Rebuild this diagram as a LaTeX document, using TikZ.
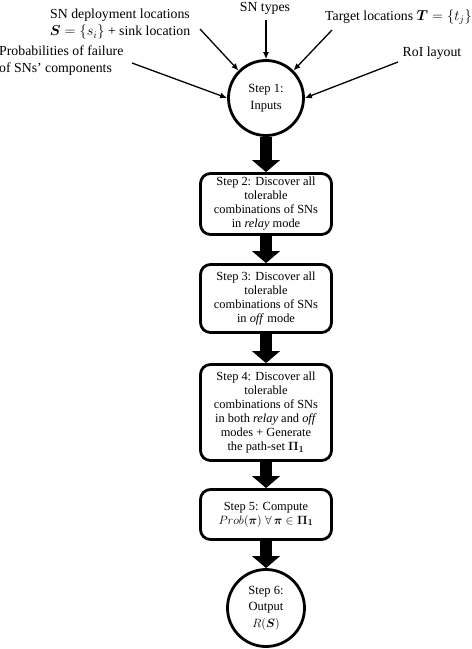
\documentclass[tikz,border=0pt]{standalone}
\usepackage{fontspec}
\setmainfont{Liberation Serif}
\usepackage{amsmath,bm}
\usetikzlibrary{arrows,arrows.meta}

\tikzset{
    stepbox/.style={draw, line width=2.8pt, rounded corners=10pt, minimum width=131pt, align=center, inner sep=2pt, font=\fontsize{12.4}{14}\selectfont},
    stepcirc/.style={draw, circle, line width=2.8pt, minimum size=75pt, inner sep=0pt, align=center, font=\fontsize{12.5}{16.5}\selectfont},
    inlabel/.style={inner sep=0pt, align=center, font=\fontsize{13.8}{17}\selectfont},
    inarrow/.style={-{Latex[length=7pt,width=6pt]}, line width=1.3pt},
    blockarrow/.style={-{Triangle[length=12pt,width=28pt,line width=0pt]}, line width=12pt},
}

\begin{document}
\begin{tikzpicture}[x=1pt, y=-1pt]

    \useasboundingbox (0,0) rectangle (472,649);

    % inputs
    \node[inlabel] (types) at (265,8) {SN types};
    \node[inlabel] (deploy) at (120,24.5) {SN deployment locations\\$\bm{S}=\{s_i\}$ + sink location};
    \node[inlabel, anchor=east] (target) at (472,17) {Target locations $\bm{T}=\{t_j\}$};
    \node[inlabel, align=left, anchor=west] (fail) at (-1,61) {Probabilities of failure\\of SNs' components};
    \node[inlabel] (roi) at (432,53) {RoI layout};

    \coordinate (typestail) at (266,20);
    \coordinate (deploytail) at (200,29);
    \coordinate (targettail) at (332,30);
    \coordinate (failtail) at (132,63);
    \coordinate (roitail) at (398,62);

    % steps
    \node[stepcirc] (inputs) at (266,98) {Step 1:\\Inputs};
    \node[stepbox, minimum height=61pt] (relay) at (266,204) {Step 2: Discover all\\tolerable\\combinations of SNs\\in \textit{relay} mode};
    \node[stepbox, minimum height=68pt] (off) at (266,298.5) {Step 3: Discover all\\tolerable\\combinations of SNs\\in \textit{off} mode};
    \node[stepbox, minimum height=96pt] (both) at (266,412.5) {Step 4: Discover all\\tolerable\\combinations of SNs\\in both \textit{relay} and \textit{off}\\modes + Generate\\the path-set $\bm{\Pi}_{\bm{1}}$};
    \node[stepbox, minimum height=50pt] (prob) at (266,514.5) {Step 5: Compute\\$Prob(\bm{\pi})\;\forall\,\bm{\pi}\in\bm{\Pi}_{\bm{1}}$};
    \node[stepcirc, minimum size=77pt] (output) at (266,608) {Step 6:\\Output\\$R(\bm{S})$};

    \draw[inarrow] (typestail) -- (inputs.north);
    \draw[inarrow] (deploytail) -- (inputs.135);
    \draw[inarrow] (targettail) -- (inputs.45);
    \draw[inarrow] (failtail) -- (inputs.west);
    \draw[inarrow] (roitail) -- (inputs.east);

    \draw[blockarrow] (inputs) -- (relay);
    \draw[blockarrow] (relay) -- (off);
    \draw[blockarrow] (off) -- (both);
    \draw[blockarrow] (both) -- (prob);
    \draw[blockarrow] (prob) -- (output);

\end{tikzpicture}
\end{document}
